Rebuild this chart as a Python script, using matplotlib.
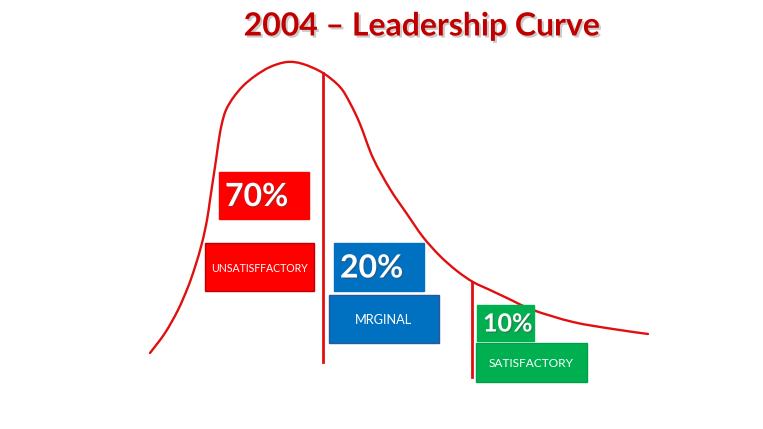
import matplotlib
matplotlib.use("Agg")
import matplotlib.pyplot as plt
import matplotlib.patheffects as pe
from matplotlib.patches import Rectangle, PathPatch
from matplotlib.path import Path

# DATA

TITLE = "2004 – Leadership Curve"

shares = [70, 20, 10]
labels = ["UNSATISFFACTORY", "MRGINAL", "SATISFACTORY"]

# curve (pixel space, y grows downward)
curve_x = [150, 165, 178, 188, 195, 202, 207, 210, 213, 216, 219, 222, 226, 233, 243, 255, 270,
           287, 303, 323, 340, 350, 360, 373, 390, 407, 423, 440, 457, 473, 490, 507, 533,
           573, 613, 648]
curve_y = [353, 333, 310, 287, 267, 243, 220, 200, 180, 160, 139, 123, 110, 98, 86, 76, 67,
           62, 64, 73, 87, 103, 124, 158, 189, 214, 237, 256, 271, 282, 290, 298, 310,
           322, 329, 334]

# dividers: x, top, bottom
dividers = [(323, 73, 362), (472, 282, 377)]

# LAYOUT

colors = ["#FF0000", "#0070C0", "#00B050"]
edge_colors = ["#C00000", "#2F5597", "#00A04A"]
# pct box (x0, y0, x1, y1), label box (x0, y0, x1, y1)
pct_boxes = [(219, 172, 309, 219), (334, 243, 424, 291), (477, 305, 534, 341)]
lab_boxes = [(205, 243, 314, 291), (329, 295, 439, 343), (476, 343, 587, 382)]
pct_sizes = [23, 23, 18]
lab_sizes = [7.6, 9.2, 8.6]

W, H = 763, 429
CURVE_RED = "#E01010"
FONT = "Lato"


# Smooth path through the traced points (Catmull-Rom turned into cubic Bezier segments).
def smooth_path(xs, ys):
    pts = list(zip(xs, ys))
    verts = [pts[0]]
    codes = [Path.MOVETO]
    n = len(pts)
    for i in range(n - 1):
        p0 = pts[max(i - 1, 0)]
        p1 = pts[i]
        p2 = pts[i + 1]
        p3 = pts[min(i + 2, n - 1)]
        c1 = (p1[0] + (p2[0] - p0[0]) / 6, p1[1] + (p2[1] - p0[1]) / 6)
        c2 = (p2[0] - (p3[0] - p1[0]) / 6, p2[1] - (p3[1] - p1[1]) / 6)
        verts += [c1, c2, p2]
        codes += [Path.CURVE4] * 3
    return Path(verts, codes)


fig = plt.figure(figsize=(W / 100, H / 100), dpi=100)
ax = fig.add_axes([0, 0, 1, 1])
ax.set_xlim(0, W)
ax.set_ylim(H, 0)
ax.axis("off")

ax.add_patch(PathPatch(smooth_path(curve_x, curve_y), facecolor="none", edgecolor=CURVE_RED,
                       linewidth=1.7, capstyle="round", zorder=2))
for x, y0, y1 in dividers:
    ax.plot([x, x], [y0, y1], color=CURVE_RED, linewidth=2.0, zorder=2)

for share, label, c, ec, pb, lb, ps, ls in zip(shares, labels, colors, edge_colors,
                                               pct_boxes, lab_boxes, pct_sizes, lab_sizes):
    x0, y0, x1, y1 = pb
    ax.add_patch(Rectangle((x0, y0), x1 - x0, y1 - y0, facecolor=c, edgecolor=c, zorder=3))
    ax.text(x0 + 6, (y0 + y1) / 2 + 1, f"{share}%", color="white", fontsize=ps,
            fontweight="bold", family=FONT, ha="left", va="center", zorder=4,
            path_effects=[pe.withSimplePatchShadow(offset=(1, -1), alpha=0.4)])
    x0, y0, x1, y1 = lb
    ax.add_patch(Rectangle((x0, y0), x1 - x0, y1 - y0, facecolor=c, edgecolor=ec,
                           linewidth=1.0, zorder=3))
    ax.text((x0 + x1) / 2, (y0 + y1) / 2 + 1, label, color="white", fontsize=ls,
            family=FONT, ha="center", va="center", zorder=4)

ax.text(422, 26, TITLE, color="#C00000", fontsize=23, fontweight="bold", family=FONT,
        ha="center", va="center", zorder=4,
        path_effects=[pe.withSimplePatchShadow(offset=(1.5, -1.5), shadow_rgbFace="#999999", alpha=0.5)])

fig.savefig("out.png", dpi=100)
